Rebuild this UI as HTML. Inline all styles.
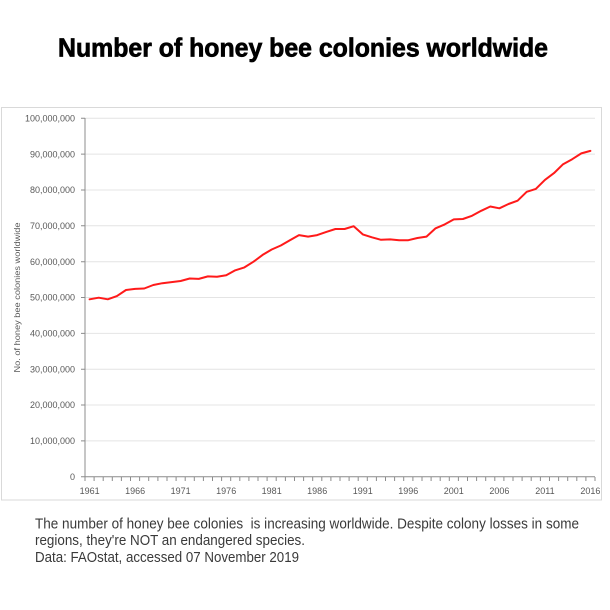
<!DOCTYPE html>
<html><head><meta charset="utf-8"><style>
html,body{margin:0;padding:0;background:#fff;}
svg{display:block;}
</style></head><body>
<svg width="610" height="610" viewBox="0 0 610 610" xmlns="http://www.w3.org/2000/svg">
<rect x="0" y="0" width="610" height="610" fill="#fff"/>
<text x="303" y="56.7" font-family="Liberation Sans, sans-serif" font-weight="bold" font-size="26" fill="#000" stroke="#000" stroke-width="0.7" text-anchor="middle" textLength="490" lengthAdjust="spacingAndGlyphs">Number of honey bee colonies worldwide</text>
<rect x="1.5" y="107.5" width="600" height="392.5" fill="#fff" stroke="#d9d9d9" stroke-width="1"/>
<g stroke="#e4e4e4" stroke-width="1">
<line x1="85" y1="118.3" x2="595" y2="118.3"/>
<line x1="85" y1="154.1" x2="595" y2="154.1"/>
<line x1="85" y1="190" x2="595" y2="190"/>
<line x1="85" y1="225.8" x2="595" y2="225.8"/>
<line x1="85" y1="261.7" x2="595" y2="261.7"/>
<line x1="85" y1="297.5" x2="595" y2="297.5"/>
<line x1="85" y1="333.4" x2="595" y2="333.4"/>
<line x1="85" y1="369.2" x2="595" y2="369.2"/>
<line x1="85" y1="405" x2="595" y2="405"/>
<line x1="85" y1="440.9" x2="595" y2="440.9"/>
</g>
<g stroke="#8c8c8c" stroke-width="1" fill="none">
<line x1="85" y1="118" x2="85" y2="477"/>
<line x1="85" y1="476.7" x2="595" y2="476.7"/>
<path d="M81 118.3H85M81 154.1H85M81 190H85M81 225.8H85M81 261.7H85M81 297.5H85M81 333.4H85M81 369.2H85M81 405H85M81 440.9H85M81 476.7H85"/>
<path d="M85 477v4M94.1 477v4M103.2 477v4M112.3 477v4M121.4 477v4M130.5 477v4M139.6 477v4M148.7 477v4M157.9 477v4M167 477v4M176.1 477v4M185.2 477v4M194.3 477v4M203.4 477v4M212.5 477v4M221.6 477v4M230.7 477v4M239.8 477v4M248.9 477v4M258 477v4M267.1 477v4M276.2 477v4M285.4 477v4M294.5 477v4M303.6 477v4M312.7 477v4M321.8 477v4M330.9 477v4M340 477v4M349.1 477v4M358.2 477v4M367.3 477v4M376.4 477v4M385.5 477v4M394.6 477v4M403.7 477v4M412.9 477v4M422 477v4M431.1 477v4M440.2 477v4M449.3 477v4M458.4 477v4M467.5 477v4M476.6 477v4M485.7 477v4M494.8 477v4M503.9 477v4M513 477v4M522.1 477v4M531.2 477v4M540.4 477v4M549.5 477v4M558.6 477v4M567.7 477v4M576.8 477v4M585.9 477v4M595 477v4"/>
</g>
<g font-family="Liberation Sans, sans-serif" font-size="9" fill="#595959" text-anchor="end">
<text x="75" y="121.5">100,000,000</text>
<text x="75" y="157.3">90,000,000</text>
<text x="75" y="193.2">80,000,000</text>
<text x="75" y="229">70,000,000</text>
<text x="75" y="264.9">60,000,000</text>
<text x="75" y="300.7">50,000,000</text>
<text x="75" y="336.6">40,000,000</text>
<text x="75" y="372.4">30,000,000</text>
<text x="75" y="408.2">20,000,000</text>
<text x="75" y="444.1">10,000,000</text>
<text x="75" y="479.9">0</text>
</g>
<g font-family="Liberation Sans, sans-serif" font-size="9" fill="#595959" text-anchor="middle">
<text x="89.6" y="494">1961</text>
<text x="135.1" y="494">1966</text>
<text x="180.6" y="494">1971</text>
<text x="226.2" y="494">1976</text>
<text x="271.7" y="494">1981</text>
<text x="317.2" y="494">1986</text>
<text x="362.8" y="494">1991</text>
<text x="408.3" y="494">1996</text>
<text x="453.8" y="494">2001</text>
<text x="499.4" y="494">2006</text>
<text x="544.9" y="494">2011</text>
<text x="590.4" y="494">2016</text>
</g>
<text transform="translate(20,297.5) rotate(-90)" font-family="Liberation Sans, sans-serif" font-size="8.6" fill="#595959" text-anchor="middle" textLength="150" lengthAdjust="spacingAndGlyphs">No. of honey bee colonies worldwide</text>
<polyline fill="none" stroke="#ff1a1a" stroke-width="2" stroke-linejoin="round" stroke-linecap="round" points="89.6,299.3 98.7,297.7 107.8,299.3 116.9,296.1 126,290 135.1,288.9 144.2,288.5 153.3,285 162.4,283.2 171.5,282.1 180.6,281 189.7,278.5 198.8,278.9 207.9,276.4 217,276.7 226.2,275.3 235.3,270.3 244.4,267.4 253.5,261.7 262.6,254.9 271.7,249.5 280.8,245.5 289.9,240.2 299,235.1 308.1,236.6 317.2,235.1 326.3,231.9 335.4,229 344.6,229 353.7,226.2 362.8,234.4 371.9,237.3 381,239.8 390.1,239.4 399.2,240.2 408.3,240.2 417.4,238 426.5,236.6 435.6,228.3 444.7,224.4 453.8,219.4 462.9,219 472,215.8 481.2,210.8 490.3,206.5 499.4,208.3 508.5,204 517.6,200.7 526.7,191.8 535.8,188.9 544.9,179.9 554,173.1 563.1,164.2 572.2,159.2 581.3,153.4 590.4,150.9"/>
<g font-family="Liberation Sans, sans-serif" font-size="14.5" fill="#3a3a3a">
<text x="35" y="528.5" textLength="544" lengthAdjust="spacingAndGlyphs" xml:space="preserve">The number of honey bee colonies  is increasing worldwide. Despite colony losses in some</text>
<text x="35" y="545.2" textLength="270" lengthAdjust="spacingAndGlyphs">regions, they're NOT an endangered species.</text>
<text x="35" y="562" textLength="264" lengthAdjust="spacingAndGlyphs">Data: FAOstat, accessed 07 November 2019</text>
</g>
</svg>
</body></html>
